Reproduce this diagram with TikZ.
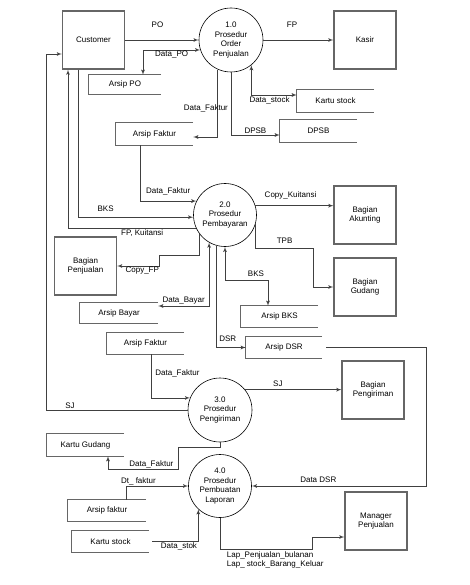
\documentclass[tikz,border=0pt]{standalone}
\usepackage{fontspec}
\setmainfont{Liberation Sans}
\usepackage{tikz}
\usetikzlibrary{arrows}

\begin{document}
\begin{tikzpicture}[x=1pt, y=-1pt,
    every node/.style={font=\fontsize{8}{9.5}\selectfont},
    entity/.style={rectangle, draw=black!60, line width=1.1pt, minimum width=62pt, minimum height=58pt, align=center, inner sep=1pt},
    process/.style={circle, draw=black, line width=0.6pt, minimum size=64pt, align=center, inner sep=0pt},
    store/.style={rectangle, minimum width=77pt, minimum height=21pt, inner sep=1pt},
    storeline/.style={draw=black!60, line width=1.1pt},
    flow/.style={draw=black!75, line width=0.8pt, -latex'},
    twoway/.style={draw=black!75, line width=0.8pt, latex'-latex'},
    lbl/.style={inner sep=1pt}]

    \useasboundingbox (0,0) rectangle (470,585);

    \node [entity] (cust) at (93.5,40) {Customer};
    \node [entity] (kasir) at (365,40) {Kasir};
    \node [entity] (akunting) at (365,215) {Bagian\\Akunting};
    \node [entity] (gudang) at (365,287) {Bagian\\Gudang};
    \node [entity] (penjualan) at (85.5,266) {Bagian\\Penjualan};
    \node [entity] (pengiriman) at (373,390) {Bagian\\Pengiriman};
    \node [entity] (manager) at (376,521) {Manager\\Penjualan};

    \node [process] (p1) at (231,40) {1.0\\Prosedur\\Order\\Penjualan};
    \node [process, minimum size=63pt] (p2) at (225,215) {2.0\\Prosedur\\Pembayaran};
    \node [process] (p3) at (220,410) {3.0\\Prosedur\\Pengiriman};
    \node [process, minimum size=63pt] (p4) at (220,486) {4.0\\Prosedur\\Pembuatan\\Laporan};

    \node [store, minimum width=72pt, minimum height=19pt] (arsippo) at (125,84.5) {Arsip PO};
    \node [store, minimum height=22pt] (kartustock) at (335.5,101) {Kartu stock};
    \node [store, minimum height=22pt] (dpsb) at (318.5,131) {DPSB};
    \node [store, minimum height=22pt] (arsipfaktur) at (154.5,134) {Arsip Faktur};
    \node [store, minimum width=78pt, minimum height=20pt] (arsipbayar) at (119,313) {Arsip Bayar};
    \node [store] (arsipbks) at (279.5,316.5) {Arsip BKS};
    \node [store, minimum width=76pt] (arsipdsr) at (284,347.5) {Arsip DSR};
    \node [store] (arsipfaktur2) at (145.5,343.5) {Arsip Faktur};
    \node [store, minimum height=22pt] (kartugudang) at (85.5,445) {Kartu Gudang};
    \node [store, minimum width=78pt] (arsipfakturb) at (107,510.5) {Arsip faktur};
    \node [store] (kartustockb) at (110.5,541.5) {Kartu stock};

    \foreach \s in {arsippo, kartustock, dpsb, arsipfaktur, arsipbayar, arsipbks, arsipdsr, arsipfaktur2, kartugudang, arsipfakturb, kartustockb}
        \draw [storeline] (\s.north east) -- (\s.north west) -- (\s.south west) -- (\s.south east);

    % 1.0
    \path [flow] (cust) -- node[lbl, above=11pt, pos=0.44] {PO} (p1);
    \path [flow] (p1) -- node[lbl, above=11pt, pos=0.41] {FP} (kasir);
    \path [twoway] (p1.198) -| node[lbl, below, pos=0.25] {Data\_PO} ([xshift=18pt]arsippo.north);
    \path [twoway] (p1.309) |- node[lbl, below, pos=0.7] {Data\_stock} ([yshift=6pt]kartustock.west);
    \path [flow] (p1.south) |- node[lbl, above, pos=0.75] {DPSB} ([yshift=-4pt]dpsb.west);
    \path [flow] (p1.246) |- node[lbl, pos=0.29, xshift=-12pt] {Data\_Faktur} ([yshift=-3pt]arsipfaktur.east);

    % 2.0
    \path [flow] ([xshift=-14.5pt]arsipfaktur.south) |- node[lbl, above=5pt, pos=0.75] {Data\_Faktur} (p2.154);
    \path [flow] ([xshift=-15.5pt]cust.south) |- node[lbl, above=4pt, pos=0.62] {BKS} (p2.184);
    \path [flow] (p2.204) -| node[lbl, below, pos=0.21] {FP, Kuitansi} ([xshift=-25.5pt]cust.south);
    \path [flow] (p2.217) -- ++(0,21) -| ([xshift=42pt]penjualan.east) -- node[lbl, below, pos=0.4] {Copy\_FP} (penjualan.east);
    \path [twoway] (p2.240) |- node[lbl, above, pos=0.75] {Data\_Bayar} ([yshift=7pt]arsipbayar.east);
    \path [twoway] (p2.south) -- ++(0,33.5) -| node[lbl, above=2pt, pos=0.36] {BKS} ([xshift=-11.5pt]arsipbks.north);
    \path [flow] (p2.255) |- node[lbl, above=5pt, pos=0.69] {DSR} (arsipdsr.west);
    \path [flow] (p2.17) -- node[lbl, above=5pt, pos=0.45] {Copy\_Kuitansi} (p2.17 -| akunting.west);
    \path [flow] (p2.345) |- node[lbl, above=3pt, pos=0.75] {TPB} ([xshift=-20pt, yshift=39pt]gudang.west) |- (gudang.west);

    % 3.0
    \path [flow] ([xshift=5.5pt]arsipfaktur2.south) |- node[lbl, right=3pt, pos=0.22] {Data\_Faktur} (p3.158);
    \path [flow] (p3.39) -- node[lbl, above=2pt, pos=0.34] {SJ} (p3.39 -| pengiriman.west);
    \path [flow] (p3.west) -| node[lbl, above, pos=0.415] {SJ} ([xshift=-16pt, yshift=-14pt]cust.west) -- ([yshift=-14pt]cust.west);
    \path [flow] (p3.south) -- ++(0,5) -| ++(-42,22) -| node[lbl, above, pos=0.19] {Data\_Faktur} ([xshift=22.5pt]kartugudang.south);

    % 4.0
    \path [flow] ([xshift=4pt]arsipdsr.east) -| ([xshift=175pt]p4.east) -- node[lbl, above=2pt, pos=0.62] {Data DSR} (p4.east);
    \path [flow] ([xshift=19pt]arsipfakturb.north) |- node[lbl, above, pos=0.6] {Dt\_ faktur} (p4.west);
    \path [flow] ([xshift=3pt]kartustockb.east) -| node[lbl, below, pos=0.29] {Data\_stok} (p4.227);
    \path [flow] (p4.south) -- ++(0,32) -| node[lbl, pos=0.03, anchor=north west, align=left] {Lap\_Penjualan\_bulanan\\Lap\_ stock\_Barang\_Keluar} ([xshift=-32pt, yshift=-16pt]manager.west) -- ([yshift=-16pt]manager.west);
\end{tikzpicture}
\end{document}
